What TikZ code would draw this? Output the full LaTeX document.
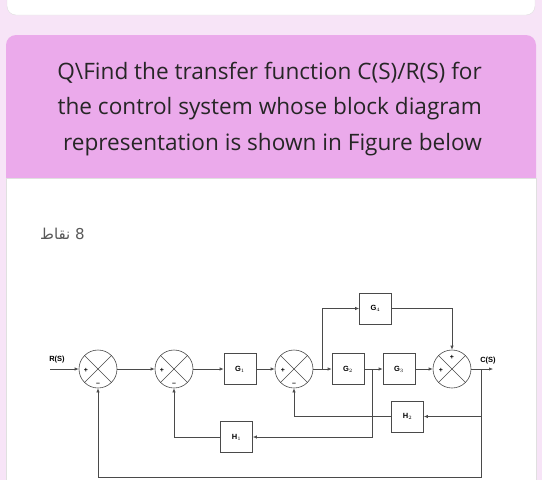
\documentclass[tikz,border=0pt]{standalone}
\usepackage{fontspec}
\setmainfont{Liberation Sans}
\newfontfamily\titlefont{Open Sans}
\newfontfamily\arabicfont[Script=Arabic]{DejaVu Sans}
\TeXXeTstate=1
\usetikzlibrary{arrows.meta}
\definecolor{pagebg}{HTML}{F7E4F7}
\definecolor{headbg}{HTML}{EBAAEB}
\definecolor{wire}{HTML}{4A4A4A}

\begin{document}
\begin{tikzpicture}[x=1pt,y=-1pt,
    wireline/.style={draw=wire,line width=0.6pt},
    sig/.style={wireline,-{Latex[length=4pt,width=3.2pt]}},
    sumnode/.style={circle,draw=wire,line width=0.6pt,minimum size=38pt,inner sep=0pt},
    gain/.style={rectangle,draw=wire,line width=0.6pt,minimum width=32pt,minimum height=31pt,inner sep=0pt,font=\fontsize{7.5}{8}\selectfont\bfseries},
    sign/.style={font=\fontsize{7}{7}\selectfont\bfseries,inner sep=0pt}]
    \useasboundingbox (0,0) rectangle (542,480);
    % page and cards
    \fill[pagebg] (0,0) rectangle (542,480);
    \fill[white,draw=black!12,rounded corners=9pt] (7,-20) rectangle (535,15);
    \fill[headbg,rounded corners=10pt] (6,35) rectangle (536,190);
    \fill[white,draw=black!12] (6,178) rectangle (536,490);
    % question text
    \node[anchor=north east,align=right,font=\titlefont\fontsize{22.6}{35.5}\selectfont,text=black!85,inner sep=0pt] (question) at (482,62)
        {Q\textbackslash Find the transfer function C(S)/R(S) for\\
         the control system whose block diagram\\
         representation is shown in Figure below};
    \node[anchor=west,font=\arabicfont\fontsize{15}{15}\selectfont,text=black!65,inner sep=0pt] (points) at (40,234)
        {\beginR 8 نقاط\endR};
    % summing points
    \node[sumnode] (sum1) at (98,369) {};
    \node[sumnode] (sum2) at (174,369) {};
    \node[sumnode] (sum3) at (294,369) {};
    \node[sumnode] (sum4) at (452,369) {};
    \foreach \s in {sum1,sum2,sum3,sum4} {
        \draw[wireline] (\s.45) -- (\s.225);
        \draw[wireline] (\s.135) -- (\s.315);
    }
    \node[sign] at (86,370) {+};
    \node[sign] at (98,384) {--};
    \node[sign] at (162,370) {+};
    \node[sign] at (174,384) {--};
    \node[sign] at (283,370) {+};
    \node[sign] at (294,384) {--};
    \node[sign] at (441,370) {+};
    \node[sign] at (452,357) {+};
    % blocks
    \node[gain] (g1) at (240,369) {G$_1$};
    \node[gain] (g2) at (348,369) {G$_2$};
    \node[gain] (g3) at (399,369) {G$_3$};
    \node[gain] (g4) at (375.5,308.5) {G$_4$};
    \node[gain] (h1) at (236.5,437) {H$_1$};
    \node[gain] (h2) at (407.5,416.5) {H$_2$};
    % input and output
    \coordinate (rin) at (50,369);
    \coordinate (cout) at (493,369);
    \node[font=\fontsize{7.5}{8}\selectfont\bfseries,inner sep=0pt] (rlabel) at (57,360) {R(S)};
    \node[font=\fontsize{7.5}{8}\selectfont\bfseries,inner sep=0pt] (clabel) at (488,361) {C(S)};
    % forward path
    \draw[sig] (rin) -- (sum1.west);
    \draw[sig] (sum1.east) -- (sum2.west);
    \draw[sig] (sum2.east) -- (g1.west);
    \draw[sig] (g1.east) -- (sum3.west);
    \draw[sig] (sum3.east) -- (g2.west);
    \draw[sig] (g2.east) -- (g3.west);
    \draw[sig] (g3.east) -- (sum4.west);
    \draw[sig] (sum4.east) -- (cout);
    % feedforward through G4
    \coordinate (split1) at (322,369);
    \draw[sig] (split1) |- (g4.west);
    \draw[sig] (g4.east) -| (sum4.north);
    % feedback loops
    \coordinate (split2) at (372,369);
    \coordinate (split3) at (481,369);
    \draw[sig] (split2) |- (h1.east);
    \draw[sig] (h1.west) -| (sum2.south);
    \draw[sig] (split3) |- (h2.east);
    \draw[sig] (h2.west) -| (sum3.south);
    \draw[sig] (split3) |- (98,477) -- (sum1.south);
\end{tikzpicture}
\end{document}
